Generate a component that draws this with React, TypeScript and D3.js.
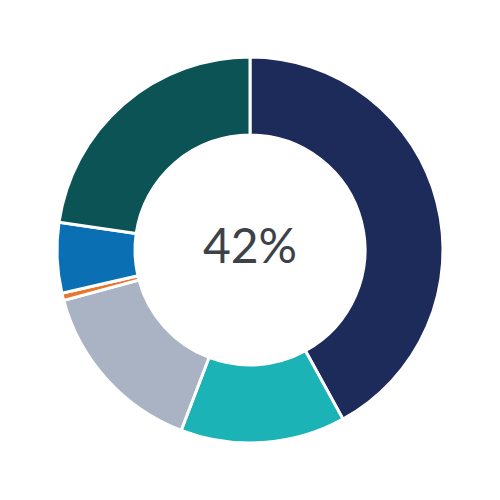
import * as d3 from "d3";
import { useEffect, useRef } from "react";

// Slice shares, clockwise from 12 o'clock.
const categories = ["A", "B", "C", "D", "E", "F"];
const shares = [42, 13.8, 15, 0.6, 5.9, 22.7];
const colors = ["#1d2b5b", "#1bb3b5", "#a9b3c3", "#e8762d", "#0a70b3", "#0b5355"];
const centerLabel = "42%";

const SIZE = 500;

const App = () => {
  const svgRef = useRef<SVGSVGElement>(null);

  useEffect(() => {
    const svgEl = svgRef.current;
    if (!svgEl) return;
    const svg = d3.select(svgEl);
    svg.selectAll("*").remove();

    const outer = 193;
    const inner = 115;

    const g = svg
      .append("g")
      .attr("transform", `translate(${SIZE / 2},${SIZE / 2})`);

    const pie = d3
      .pie<number>()
      .sort(null)
      .value((d) => d);
    const arc = d3
      .arc<d3.PieArcDatum<number>>()
      .innerRadius(inner)
      .outerRadius(outer);

    g.selectAll("path")
      .data(pie(shares))
      .join("path")
      .attr("d", arc)
      .attr("fill", (_, i) => colors[i])
      .attr("stroke", "#fff")
      .attr("stroke-width", 3)
      .append("title")
      .text((_, i) => categories[i]);

    g.append("text")
      .attr("text-anchor", "middle")
      .attr("dy", "0.35em")
      .attr("y", -4)
      .attr("font-family", "Lato, 'Open Sans', sans-serif")
      .attr("font-weight", 400)
      .attr("font-size", 48)
      .attr("fill", "#3d4148")
      .text(centerLabel);
  }, []);

  return (
    <svg
      ref={svgRef}
      width={SIZE}
      height={SIZE}
      style={{ position: "fixed", top: 0, left: 0, background: "#fff" }}
    />
  );
};

export default App;
